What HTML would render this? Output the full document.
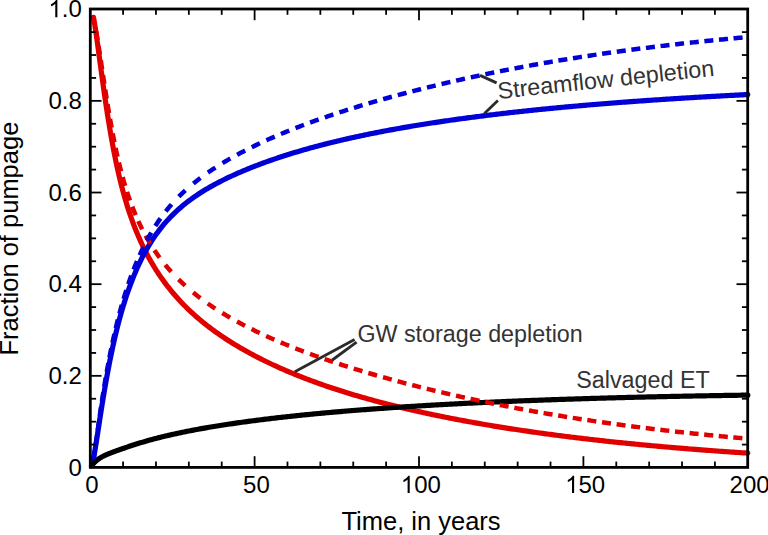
<!DOCTYPE html>
<html><head><meta charset="utf-8"><style>html,body{margin:0;padding:0;background:#fff;overflow:hidden}svg{display:block}</style></head>
<body><svg width="768" height="535" viewBox="0 0 768 535">
<rect width="768" height="535" fill="#fff"/>
<g fill="none" stroke-linecap="round" stroke-linejoin="round" stroke-width="5.2">
<path d="M93.49,17.32 L93.69,18.37 L93.89,19.47 L94.08,20.60 L94.28,21.76 L94.48,22.95 L94.68,24.18 L94.88,25.43 L95.08,26.70 L95.28,27.99 L95.47,29.31 L95.67,30.64 L95.87,32.00 L96.07,33.36 L96.27,34.75 L96.47,36.14 L96.67,37.55 L96.86,38.97 L97.06,40.39 L97.26,41.83 L97.46,43.27 L97.66,44.72 L97.86,46.18 L98.06,47.64 L98.25,49.10 L98.45,50.57 L98.65,52.04 L98.85,53.51 L99.05,54.99 L99.25,56.47 L99.45,57.94 L99.64,59.42 L99.84,60.89 L100.04,62.37 L100.24,63.84 L100.44,65.31 L100.64,66.78 L100.84,68.25 L101.03,69.71 L101.23,71.17 L101.43,72.63 L101.63,74.08 L101.83,75.53 L102.03,76.98 L102.23,78.42 L102.43,79.85 L102.62,81.28 L102.82,82.71 L103.02,84.13 L103.22,85.54 L103.42,86.95 L103.62,88.35 L103.82,89.75 L104.01,91.14 L104.21,92.53 L104.41,93.90 L104.61,95.28 L104.81,96.64 L105.01,98.00 L105.21,99.35 L105.40,100.70 L105.60,102.03 L105.80,103.36 L106.00,104.69 L106.20,106.00 L106.40,107.31 L106.60,108.61 L106.79,109.91 L106.99,111.20 L107.19,112.48 L107.39,113.75 L107.59,115.01 L107.79,116.27 L107.99,117.52 L108.18,118.77 L108.38,120.00 L108.58,121.23 L108.78,122.45 L108.98,123.66 L109.18,124.87 L109.38,126.07 L109.57,127.26 L109.77,128.44 L109.97,129.61 L110.17,130.78 L110.37,131.94 L110.57,133.09 L110.77,134.24 L110.97,135.38 L111.16,136.51 L111.36,137.63 L111.56,138.74 L111.76,139.85 L111.96,140.95 L112.16,142.05 L112.36,143.13 L112.55,144.21 L112.75,145.28 L112.95,146.34 L113.15,147.40 L113.35,148.45 L113.55,149.49 L113.75,150.53 L113.94,151.55 L114.14,152.58 L114.34,153.59 L114.54,154.60 L114.74,155.59 L114.94,156.59 L115.14,157.57 L115.33,158.55 L115.53,159.52 L115.73,160.49 L115.93,161.44 L116.13,162.39 L116.33,163.34 L116.53,164.27 L116.72,165.20 L116.92,166.13 L117.12,167.04 L117.32,167.96 L117.52,168.86 L117.72,169.76 L117.92,170.65 L118.11,171.53 L118.31,172.41 L118.51,173.28 L118.71,174.14 L118.91,175.00 L119.11,175.85 L119.31,176.70 L119.51,177.54 L119.70,178.37 L119.90,179.20 L120.10,180.02 L120.30,180.83 L120.50,181.64 L120.70,182.44 L120.90,183.24 L121.09,184.03 L121.29,184.81 L121.49,185.59 L121.69,186.37 L121.89,187.13 L122.09,187.89 L122.29,188.65 L122.48,189.40 L122.68,190.15 L122.88,190.89 L123.08,191.62 L124.65,197.24 L126.21,202.56 L127.78,207.61 L129.34,212.42 L130.91,217.00 L132.47,221.37 L134.04,225.55 L135.61,229.55 L137.17,233.38 L138.74,237.06 L140.30,240.60 L141.87,244.00 L143.43,247.27 L145.00,250.43 L146.57,253.47 L148.13,256.42 L149.70,259.26 L151.26,262.01 L152.83,264.68 L154.39,267.26 L155.96,269.77 L157.53,272.20 L159.09,274.57 L160.66,276.86 L162.22,279.10 L163.79,281.27 L165.35,283.39 L166.92,285.46 L168.49,287.47 L170.05,289.43 L171.62,291.35 L173.18,293.22 L174.75,295.05 L176.31,296.83 L177.88,298.58 L179.45,300.29 L181.01,301.96 L182.58,303.60 L184.14,305.20 L185.71,306.77 L187.27,308.31 L188.84,309.82 L190.41,311.30 L191.97,312.76 L193.54,314.18 L195.10,315.58 L196.67,316.96 L198.23,318.31 L199.80,319.63 L201.37,320.94 L202.93,322.22 L204.50,323.48 L206.06,324.72 L207.63,325.95 L209.19,327.15 L210.76,328.33 L212.33,329.50 L213.89,330.65 L215.46,331.78 L217.02,332.89 L218.59,333.99 L220.15,335.07 L221.72,336.14 L223.29,337.19 L224.85,338.23 L226.42,339.26 L227.98,340.27 L229.55,341.27 L231.11,342.25 L232.68,343.23 L234.25,344.19 L235.81,345.14 L237.38,346.08 L238.94,347.00 L240.51,347.92 L242.07,348.82 L243.64,349.72 L245.21,350.60 L246.77,351.48 L248.34,352.34 L249.90,353.20 L251.47,354.04 L253.03,354.88 L254.60,355.71 L256.17,356.53 L257.73,357.34 L259.30,358.14 L260.86,358.93 L262.43,359.72 L263.99,360.49 L265.56,361.26 L267.13,362.02 L268.69,362.77 L270.26,363.52 L271.82,364.26 L273.39,364.99 L274.95,365.71 L276.52,366.43 L278.09,367.14 L279.65,367.84 L281.22,368.53 L282.78,369.22 L284.35,369.90 L285.91,370.58 L287.48,371.25 L289.05,371.91 L290.61,372.57 L292.18,373.22 L293.74,373.87 L295.31,374.50 L296.87,375.14 L298.44,375.77 L300.01,376.39 L301.57,377.00 L303.14,377.61 L304.70,378.22 L306.27,378.82 L307.83,379.41 L309.40,380.00 L310.97,380.59 L312.53,381.17 L314.10,381.74 L315.66,382.31 L317.23,382.88 L318.79,383.44 L320.36,383.99 L321.93,384.54 L323.49,385.09 L325.06,385.63 L326.62,386.17 L328.19,386.70 L329.75,387.23 L331.32,387.75 L332.89,388.27 L334.45,388.79 L336.02,389.30 L337.58,389.81 L339.15,390.31 L340.71,390.81 L342.28,391.31 L343.85,391.80 L345.41,392.29 L346.98,392.77 L348.54,393.25 L350.11,393.73 L351.67,394.20 L353.24,394.67 L354.81,395.14 L356.37,395.60 L357.94,396.06 L359.50,396.52 L361.07,396.97 L362.63,397.42 L364.20,397.86 L365.77,398.30 L367.33,398.74 L368.90,399.18 L370.46,399.61 L372.03,400.04 L373.59,400.47 L375.16,400.89 L376.73,401.31 L378.29,401.73 L379.86,402.15 L381.42,402.56 L382.99,402.97 L384.55,403.37 L386.12,403.77 L387.69,404.17 L389.25,404.57 L390.82,404.97 L392.38,405.36 L393.95,405.75 L395.51,406.14 L397.08,406.52 L398.65,406.90 L400.21,407.28 L401.78,407.66 L403.34,408.03 L404.91,408.40 L406.47,408.77 L408.04,409.14 L409.61,409.50 L411.17,409.86 L412.74,410.22 L414.30,410.58 L415.87,410.93 L417.43,411.29 L419.00,411.64 L420.57,411.98 L422.13,412.33 L423.70,412.67 L425.26,413.01 L426.83,413.35 L428.39,413.69 L429.96,414.02 L431.53,414.36 L433.09,414.69 L434.66,415.01 L436.22,415.34 L437.79,415.66 L439.35,415.99 L440.92,416.31 L442.49,416.62 L444.05,416.94 L445.62,417.25 L447.18,417.56 L448.75,417.87 L450.31,418.18 L451.88,418.49 L453.45,418.79 L455.01,419.09 L456.58,419.39 L458.14,419.69 L459.71,419.99 L461.27,420.28 L462.84,420.58 L464.41,420.87 L465.97,421.16 L467.54,421.45 L469.10,421.73 L470.67,422.01 L472.23,422.30 L473.80,422.58 L475.37,422.86 L476.93,423.13 L478.50,423.41 L480.06,423.68 L481.63,423.95 L483.19,424.22 L484.76,424.49 L486.33,424.76 L487.89,425.03 L489.46,425.29 L491.02,425.55 L492.59,425.81 L494.15,426.07 L495.72,426.33 L497.29,426.59 L498.85,426.84 L500.42,427.09 L501.98,427.34 L503.55,427.59 L505.11,427.84 L506.68,428.09 L508.25,428.33 L509.81,428.58 L511.38,428.82 L512.94,429.06 L514.51,429.30 L516.07,429.54 L517.64,429.78 L519.21,430.01 L520.77,430.25 L522.34,430.48 L523.90,430.71 L525.47,430.94 L527.03,431.17 L528.60,431.40 L530.17,431.62 L531.73,431.85 L533.30,432.07 L534.86,432.29 L536.43,432.51 L537.99,432.73 L539.56,432.95 L541.13,433.17 L542.69,433.38 L544.26,433.59 L545.82,433.81 L547.39,434.02 L548.95,434.23 L550.52,434.44 L552.09,434.65 L553.65,434.85 L555.22,435.06 L556.78,435.26 L558.35,435.47 L559.91,435.67 L561.48,435.87 L563.05,436.07 L564.61,436.27 L566.18,436.47 L567.74,436.66 L569.31,436.86 L570.87,437.05 L572.44,437.24 L574.01,437.44 L575.57,437.63 L577.14,437.82 L578.70,438.00 L580.27,438.19 L581.83,438.38 L583.40,438.56 L584.97,438.75 L586.53,438.93 L588.10,439.11 L589.66,439.29 L591.23,439.47 L592.79,439.65 L594.36,439.83 L595.93,440.01 L597.49,440.18 L599.06,440.36 L600.62,440.53 L602.19,440.70 L603.75,440.88 L605.32,441.05 L606.89,441.22 L608.45,441.39 L610.02,441.55 L611.58,441.72 L613.15,441.89 L614.71,442.05 L616.28,442.22 L617.85,442.38 L619.41,442.54 L620.98,442.70 L622.54,442.86 L624.11,443.02 L625.67,443.18 L627.24,443.34 L628.81,443.50 L630.37,443.65 L631.94,443.81 L633.50,443.96 L635.07,444.12 L636.63,444.27 L638.20,444.42 L639.77,444.57 L641.33,444.72 L642.90,444.87 L644.46,445.02 L646.03,445.16 L647.59,445.31 L649.16,445.46 L650.73,445.60 L652.29,445.75 L653.86,445.89 L655.42,446.03 L656.99,446.17 L658.55,446.31 L660.12,446.45 L661.69,446.59 L663.25,446.73 L664.82,446.87 L666.38,447.01 L667.95,447.14 L669.51,447.28 L671.08,447.41 L672.65,447.54 L674.21,447.68 L675.78,447.81 L677.34,447.94 L678.91,448.07 L680.47,448.20 L682.04,448.33 L683.61,448.46 L685.17,448.59 L686.74,448.71 L688.30,448.84 L689.87,448.97 L691.43,449.09 L693.00,449.21 L694.57,449.34 L696.13,449.46 L697.70,449.58 L699.26,449.70 L700.83,449.82 L702.39,449.94 L703.96,450.06 L705.53,450.18 L707.09,450.30 L708.66,450.42 L710.22,450.53 L711.79,450.65 L713.35,450.76 L714.92,450.88 L716.49,450.99 L718.05,451.11 L719.62,451.22 L721.18,451.33 L722.75,451.44 L724.31,451.55 L725.88,451.66 L727.45,451.77 L729.01,451.88 L730.58,451.99 L732.14,452.09 L733.71,452.20 L735.27,452.31 L736.84,452.41 L738.41,452.52 L739.97,452.62 L741.54,452.73 L743.10,452.83 L744.67,452.93 L746.23,453.03 L747.80,453.14" stroke="#e00000"/>
<path d="M93.29,459.47 L93.49,458.48 L93.69,457.46 L93.89,456.40 L94.09,455.32 L94.29,454.21 L94.49,453.08 L94.69,451.93 L94.89,450.75 L95.09,449.56 L95.29,448.35 L95.49,447.13 L95.69,445.89 L95.89,444.64 L96.09,443.38 L96.29,442.11 L96.49,440.83 L96.69,439.55 L96.89,438.26 L97.09,436.96 L97.29,435.66 L97.49,434.36 L97.69,433.05 L97.89,431.74 L98.09,430.43 L98.29,429.12 L98.49,427.81 L98.69,426.50 L98.89,425.19 L99.09,423.88 L99.29,422.58 L99.49,421.27 L99.69,419.97 L99.89,418.68 L100.09,417.38 L100.29,416.09 L100.49,414.81 L100.69,413.53 L100.89,412.25 L101.09,410.98 L101.29,409.71 L101.49,408.45 L101.69,407.19 L101.89,405.94 L102.09,404.69 L102.29,403.45 L102.49,402.21 L102.69,400.98 L102.89,399.76 L103.09,398.54 L103.29,397.33 L103.49,396.12 L103.69,394.92 L103.89,393.73 L104.09,392.54 L104.29,391.35 L104.49,390.18 L104.69,389.01 L104.89,387.84 L105.09,386.68 L105.29,385.53 L105.49,384.39 L105.69,383.25 L105.89,382.11 L106.09,380.99 L106.29,379.87 L106.49,378.75 L106.69,377.65 L106.89,376.54 L107.09,375.45 L107.29,374.36 L107.49,373.28 L107.69,372.20 L107.89,371.13 L108.09,370.07 L108.29,369.01 L108.49,367.96 L108.69,366.91 L108.89,365.88 L109.09,364.84 L109.28,363.82 L109.48,362.80 L109.68,361.78 L109.88,360.77 L110.08,359.77 L110.28,358.78 L110.48,357.79 L110.68,356.80 L110.88,355.83 L111.08,354.86 L111.28,353.89 L111.48,352.93 L111.68,351.98 L111.88,351.03 L112.08,350.09 L112.28,349.15 L112.48,348.22 L112.68,347.30 L112.88,346.38 L113.08,345.46 L113.28,344.56 L113.48,343.66 L113.68,342.76 L113.88,341.87 L114.08,340.98 L114.28,340.11 L114.48,339.23 L114.68,338.36 L114.88,337.50 L115.08,336.64 L115.28,335.79 L115.48,334.94 L115.68,334.10 L115.88,333.27 L116.08,332.44 L116.28,331.61 L116.48,330.79 L116.68,329.98 L116.88,329.17 L117.08,328.36 L117.28,327.56 L117.48,326.77 L117.68,325.98 L117.88,325.19 L118.08,324.41 L118.28,323.64 L118.48,322.87 L118.68,322.11 L118.88,321.35 L119.08,320.59 L119.28,319.84 L119.48,319.10 L119.68,318.35 L119.88,317.62 L120.08,316.89 L120.28,316.16 L120.48,315.44 L120.68,314.72 L120.88,314.01 L121.08,313.30 L121.28,312.60 L121.48,311.90 L121.68,311.20 L121.88,310.51 L122.08,309.82 L122.28,309.14 L122.48,308.46 L122.68,307.79 L122.88,307.12 L123.08,306.46 L124.65,301.38 L126.21,296.54 L127.78,291.92 L129.34,287.51 L130.91,283.28 L132.47,279.24 L134.04,275.36 L135.61,271.64 L137.17,268.08 L138.74,264.66 L140.30,261.37 L141.87,258.21 L143.43,255.18 L145.00,252.25 L146.57,249.44 L148.13,246.73 L149.70,244.13 L151.26,241.61 L152.83,239.19 L154.39,236.85 L155.96,234.60 L157.53,232.43 L159.09,230.33 L160.66,228.30 L162.22,226.35 L163.79,224.46 L165.35,222.63 L166.92,220.86 L168.49,219.15 L170.05,217.49 L171.62,215.88 L173.18,214.32 L174.75,212.81 L176.31,211.34 L177.88,209.90 L179.45,208.51 L181.01,207.16 L182.58,205.84 L184.14,204.55 L185.71,203.30 L187.27,202.07 L188.84,200.88 L190.41,199.71 L191.97,198.57 L193.54,197.46 L195.10,196.37 L196.67,195.30 L198.23,194.26 L199.80,193.24 L201.37,192.24 L202.93,191.26 L204.50,190.29 L206.06,189.35 L207.63,188.42 L209.19,187.51 L210.76,186.62 L212.33,185.74 L213.89,184.88 L215.46,184.03 L217.02,183.20 L218.59,182.37 L220.15,181.57 L221.72,180.77 L223.29,179.99 L224.85,179.21 L226.42,178.45 L227.98,177.70 L229.55,176.96 L231.11,176.23 L232.68,175.51 L234.25,174.80 L235.81,174.10 L237.38,173.40 L238.94,172.72 L240.51,172.04 L242.07,171.37 L243.64,170.71 L245.21,170.06 L246.77,169.41 L248.34,168.77 L249.90,168.14 L251.47,167.51 L253.03,166.89 L254.60,166.28 L256.17,165.67 L257.73,165.07 L259.30,164.48 L260.86,163.89 L262.43,163.31 L263.99,162.74 L265.56,162.17 L267.13,161.61 L268.69,161.05 L270.26,160.50 L271.82,159.95 L273.39,159.41 L274.95,158.87 L276.52,158.34 L278.09,157.82 L279.65,157.30 L281.22,156.78 L282.78,156.27 L284.35,155.77 L285.91,155.27 L287.48,154.77 L289.05,154.28 L290.61,153.80 L292.18,153.31 L293.74,152.84 L295.31,152.36 L296.87,151.89 L298.44,151.43 L300.01,150.97 L301.57,150.51 L303.14,150.06 L304.70,149.61 L306.27,149.17 L307.83,148.73 L309.40,148.29 L310.97,147.86 L312.53,147.43 L314.10,147.01 L315.66,146.59 L317.23,146.17 L318.79,145.75 L320.36,145.34 L321.93,144.94 L323.49,144.53 L325.06,144.13 L326.62,143.74 L328.19,143.34 L329.75,142.95 L331.32,142.56 L332.89,142.18 L334.45,141.80 L336.02,141.42 L337.58,141.05 L339.15,140.68 L340.71,140.31 L342.28,139.94 L343.85,139.58 L345.41,139.22 L346.98,138.86 L348.54,138.51 L350.11,138.16 L351.67,137.81 L353.24,137.46 L354.81,137.12 L356.37,136.78 L357.94,136.44 L359.50,136.10 L361.07,135.77 L362.63,135.44 L364.20,135.11 L365.77,134.79 L367.33,134.46 L368.90,134.14 L370.46,133.82 L372.03,133.51 L373.59,133.20 L375.16,132.88 L376.73,132.58 L378.29,132.27 L379.86,131.96 L381.42,131.66 L382.99,131.36 L384.55,131.06 L386.12,130.77 L387.69,130.47 L389.25,130.18 L390.82,129.89 L392.38,129.61 L393.95,129.32 L395.51,129.04 L397.08,128.76 L398.65,128.48 L400.21,128.20 L401.78,127.92 L403.34,127.65 L404.91,127.38 L406.47,127.11 L408.04,126.84 L409.61,126.58 L411.17,126.31 L412.74,126.05 L414.30,125.79 L415.87,125.53 L417.43,125.27 L419.00,125.02 L420.57,124.76 L422.13,124.51 L423.70,124.26 L425.26,124.01 L426.83,123.77 L428.39,123.52 L429.96,123.28 L431.53,123.04 L433.09,122.80 L434.66,122.56 L436.22,122.32 L437.79,122.08 L439.35,121.85 L440.92,121.62 L442.49,121.39 L444.05,121.16 L445.62,120.93 L447.18,120.70 L448.75,120.48 L450.31,120.25 L451.88,120.03 L453.45,119.81 L455.01,119.59 L456.58,119.37 L458.14,119.15 L459.71,118.94 L461.27,118.72 L462.84,118.51 L464.41,118.30 L465.97,118.09 L467.54,117.88 L469.10,117.67 L470.67,117.47 L472.23,117.26 L473.80,117.06 L475.37,116.86 L476.93,116.66 L478.50,116.46 L480.06,116.26 L481.63,116.06 L483.19,115.86 L484.76,115.67 L486.33,115.47 L487.89,115.28 L489.46,115.09 L491.02,114.90 L492.59,114.71 L494.15,114.52 L495.72,114.34 L497.29,114.15 L498.85,113.97 L500.42,113.78 L501.98,113.60 L503.55,113.42 L505.11,113.24 L506.68,113.06 L508.25,112.88 L509.81,112.70 L511.38,112.53 L512.94,112.35 L514.51,112.18 L516.07,112.01 L517.64,111.83 L519.21,111.66 L520.77,111.49 L522.34,111.32 L523.90,111.16 L525.47,110.99 L527.03,110.82 L528.60,110.66 L530.17,110.49 L531.73,110.33 L533.30,110.17 L534.86,110.01 L536.43,109.85 L537.99,109.69 L539.56,109.53 L541.13,109.37 L542.69,109.21 L544.26,109.06 L545.82,108.90 L547.39,108.75 L548.95,108.59 L550.52,108.44 L552.09,108.29 L553.65,108.14 L555.22,107.99 L556.78,107.84 L558.35,107.69 L559.91,107.55 L561.48,107.40 L563.05,107.25 L564.61,107.11 L566.18,106.96 L567.74,106.82 L569.31,106.68 L570.87,106.54 L572.44,106.40 L574.01,106.26 L575.57,106.12 L577.14,105.98 L578.70,105.84 L580.27,105.70 L581.83,105.57 L583.40,105.43 L584.97,105.30 L586.53,105.16 L588.10,105.03 L589.66,104.90 L591.23,104.77 L592.79,104.63 L594.36,104.50 L595.93,104.37 L597.49,104.24 L599.06,104.12 L600.62,103.99 L602.19,103.86 L603.75,103.74 L605.32,103.61 L606.89,103.49 L608.45,103.36 L610.02,103.24 L611.58,103.11 L613.15,102.99 L614.71,102.87 L616.28,102.75 L617.85,102.63 L619.41,102.51 L620.98,102.39 L622.54,102.27 L624.11,102.15 L625.67,102.04 L627.24,101.92 L628.81,101.81 L630.37,101.69 L631.94,101.58 L633.50,101.46 L635.07,101.35 L636.63,101.24 L638.20,101.12 L639.77,101.01 L641.33,100.90 L642.90,100.79 L644.46,100.68 L646.03,100.57 L647.59,100.46 L649.16,100.35 L650.73,100.25 L652.29,100.14 L653.86,100.03 L655.42,99.93 L656.99,99.82 L658.55,99.72 L660.12,99.61 L661.69,99.51 L663.25,99.41 L664.82,99.30 L666.38,99.20 L667.95,99.10 L669.51,99.00 L671.08,98.90 L672.65,98.80 L674.21,98.70 L675.78,98.60 L677.34,98.50 L678.91,98.40 L680.47,98.31 L682.04,98.21 L683.61,98.11 L685.17,98.02 L686.74,97.92 L688.30,97.83 L689.87,97.73 L691.43,97.64 L693.00,97.54 L694.57,97.45 L696.13,97.36 L697.70,97.27 L699.26,97.18 L700.83,97.08 L702.39,96.99 L703.96,96.90 L705.53,96.81 L707.09,96.72 L708.66,96.64 L710.22,96.55 L711.79,96.46 L713.35,96.37 L714.92,96.29 L716.49,96.20 L718.05,96.11 L719.62,96.03 L721.18,95.94 L722.75,95.86 L724.31,95.77 L725.88,95.69 L727.45,95.61 L729.01,95.52 L730.58,95.44 L732.14,95.36 L733.71,95.28 L735.27,95.19 L736.84,95.11 L738.41,95.03 L739.97,94.95 L741.54,94.87 L743.10,94.79 L744.67,94.72 L746.23,94.64 L747.80,94.56" stroke="#0000d7"/>
<path d="M91.52,465.76 L91.73,465.49 L91.94,465.23 L92.15,464.97 L92.36,464.72 L92.57,464.48 L92.79,464.23 L93.00,463.99 L93.21,463.76 L93.42,463.53 L93.63,463.30 L93.85,463.08 L94.06,462.86 L94.27,462.65 L94.48,462.44 L94.69,462.23 L94.90,462.02 L95.12,461.82 L95.33,461.63 L95.54,461.43 L95.75,461.24 L95.96,461.05 L96.18,460.87 L96.39,460.69 L96.60,460.51 L96.81,460.34 L97.02,460.17 L97.23,460.00 L97.45,459.83 L97.66,459.67 L97.87,459.51 L98.08,459.35 L98.29,459.19 L98.51,459.04 L98.72,458.89 L98.93,458.74 L99.14,458.60 L99.35,458.45 L99.57,458.31 L99.78,458.18 L99.99,458.04 L100.20,457.91 L100.41,457.78 L100.62,457.65 L100.84,457.52 L101.05,457.40 L101.26,457.27 L101.47,457.15 L101.68,457.03 L101.90,456.91 L102.11,456.80 L102.32,456.68 L102.53,456.57 L102.74,456.46 L102.95,456.35 L103.17,456.24 L103.38,456.13 L103.59,456.02 L103.80,455.92 L104.01,455.81 L104.23,455.71 L104.44,455.61 L104.65,455.51 L104.86,455.41 L105.07,455.31 L105.29,455.21 L105.50,455.12 L105.71,455.02 L105.92,454.92 L106.13,454.83 L106.34,454.74 L106.56,454.64 L106.77,454.55 L106.98,454.46 L107.19,454.37 L107.40,454.28 L107.62,454.19 L107.83,454.10 L108.04,454.01 L108.25,453.92 L108.46,453.83 L108.67,453.75 L108.89,453.66 L109.10,453.58 L109.31,453.49 L109.52,453.41 L109.73,453.32 L109.95,453.24 L110.16,453.15 L110.37,453.07 L110.58,452.99 L110.79,452.90 L111.00,452.82 L111.22,452.74 L111.43,452.66 L111.64,452.58 L111.85,452.50 L112.06,452.42 L112.28,452.34 L112.49,452.26 L112.70,452.18 L112.91,452.10 L113.12,452.02 L113.34,451.94 L113.55,451.86 L113.76,451.78 L113.97,451.70 L114.18,451.62 L114.39,451.55 L114.61,451.47 L114.82,451.39 L115.03,451.31 L115.24,451.24 L115.45,451.16 L115.67,451.08 L115.88,451.01 L116.09,450.93 L116.30,450.85 L116.51,450.78 L116.72,450.70 L116.94,450.63 L117.15,450.55 L117.36,450.47 L117.57,450.40 L117.78,450.32 L118.00,450.25 L118.21,450.17 L118.42,450.10 L118.63,450.02 L118.84,449.95 L119.05,449.87 L119.27,449.80 L119.48,449.72 L119.69,449.65 L119.90,449.57 L120.11,449.50 L120.33,449.42 L120.54,449.35 L120.75,449.27 L120.96,449.20 L121.17,449.12 L121.39,449.05 L121.60,448.98 L121.81,448.90 L122.02,448.83 L122.23,448.75 L122.44,448.68 L122.66,448.61 L122.87,448.53 L123.08,448.46 L124.65,447.92 L126.21,447.38 L127.78,446.85 L129.34,446.33 L130.91,445.81 L132.47,445.30 L134.04,444.79 L135.61,444.29 L137.17,443.80 L138.74,443.32 L140.30,442.84 L141.87,442.37 L143.43,441.91 L145.00,441.45 L146.57,441.00 L148.13,440.56 L149.70,440.12 L151.26,439.69 L152.83,439.27 L154.39,438.85 L155.96,438.44 L157.53,438.03 L159.09,437.63 L160.66,437.24 L162.22,436.85 L163.79,436.47 L165.35,436.09 L166.92,435.72 L168.49,435.36 L170.05,434.99 L171.62,434.64 L173.18,434.29 L174.75,433.94 L176.31,433.60 L177.88,433.26 L179.45,432.92 L181.01,432.59 L182.58,432.27 L184.14,431.95 L185.71,431.63 L187.27,431.32 L188.84,431.01 L190.41,430.70 L191.97,430.40 L193.54,430.10 L195.10,429.80 L196.67,429.51 L198.23,429.22 L199.80,428.93 L201.37,428.65 L202.93,428.37 L204.50,428.10 L206.06,427.82 L207.63,427.55 L209.19,427.28 L210.76,427.02 L212.33,426.76 L213.89,426.50 L215.46,426.24 L217.02,425.99 L218.59,425.73 L220.15,425.49 L221.72,425.24 L223.29,424.99 L224.85,424.75 L226.42,424.51 L227.98,424.28 L229.55,424.04 L231.11,423.81 L232.68,423.58 L234.25,423.35 L235.81,423.12 L237.38,422.90 L238.94,422.68 L240.51,422.45 L242.07,422.24 L243.64,422.02 L245.21,421.81 L246.77,421.59 L248.34,421.38 L249.90,421.17 L251.47,420.97 L253.03,420.76 L254.60,420.56 L256.17,420.35 L257.73,420.15 L259.30,419.96 L260.86,419.76 L262.43,419.56 L263.99,419.37 L265.56,419.18 L267.13,418.99 L268.69,418.80 L270.26,418.61 L271.82,418.43 L273.39,418.24 L274.95,418.06 L276.52,417.88 L278.09,417.70 L279.65,417.52 L281.22,417.34 L282.78,417.17 L284.35,416.99 L285.91,416.82 L287.48,416.65 L289.05,416.48 L290.61,416.31 L292.18,416.14 L293.74,415.98 L295.31,415.81 L296.87,415.65 L298.44,415.49 L300.01,415.33 L301.57,415.17 L303.14,415.01 L304.70,414.85 L306.27,414.69 L307.83,414.54 L309.40,414.39 L310.97,414.23 L312.53,414.08 L314.10,413.93 L315.66,413.78 L317.23,413.63 L318.79,413.49 L320.36,413.34 L321.93,413.20 L323.49,413.05 L325.06,412.91 L326.62,412.77 L328.19,412.63 L329.75,412.49 L331.32,412.35 L332.89,412.21 L334.45,412.08 L336.02,411.94 L337.58,411.81 L339.15,411.67 L340.71,411.54 L342.28,411.41 L343.85,411.28 L345.41,411.15 L346.98,411.02 L348.54,410.89 L350.11,410.76 L351.67,410.64 L353.24,410.51 L354.81,410.39 L356.37,410.26 L357.94,410.14 L359.50,410.02 L361.07,409.90 L362.63,409.78 L364.20,409.66 L365.77,409.54 L367.33,409.42 L368.90,409.30 L370.46,409.19 L372.03,409.07 L373.59,408.96 L375.16,408.84 L376.73,408.73 L378.29,408.62 L379.86,408.51 L381.42,408.40 L382.99,408.29 L384.55,408.18 L386.12,408.07 L387.69,407.96 L389.25,407.85 L390.82,407.74 L392.38,407.64 L393.95,407.53 L395.51,407.43 L397.08,407.32 L398.65,407.22 L400.21,407.12 L401.78,407.02 L403.34,406.92 L404.91,406.81 L406.47,406.72 L408.04,406.62 L409.61,406.52 L411.17,406.42 L412.74,406.32 L414.30,406.22 L415.87,406.13 L417.43,406.03 L419.00,405.94 L420.57,405.84 L422.13,405.75 L423.70,405.66 L425.26,405.56 L426.83,405.47 L428.39,405.38 L429.96,405.29 L431.53,405.20 L433.09,405.11 L434.66,405.02 L436.22,404.93 L437.79,404.84 L439.35,404.76 L440.92,404.67 L442.49,404.58 L444.05,404.50 L445.62,404.41 L447.18,404.33 L448.75,404.24 L450.31,404.16 L451.88,404.08 L453.45,403.99 L455.01,403.91 L456.58,403.83 L458.14,403.75 L459.71,403.67 L461.27,403.59 L462.84,403.51 L464.41,403.43 L465.97,403.35 L467.54,403.27 L469.10,403.19 L470.67,403.12 L472.23,403.04 L473.80,402.96 L475.37,402.89 L476.93,402.81 L478.50,402.74 L480.06,402.67 L481.63,402.59 L483.19,402.52 L484.76,402.45 L486.33,402.37 L487.89,402.30 L489.46,402.23 L491.02,402.16 L492.59,402.09 L494.15,402.02 L495.72,401.95 L497.29,401.88 L498.85,401.81 L500.42,401.74 L501.98,401.68 L503.55,401.61 L505.11,401.54 L506.68,401.47 L508.25,401.41 L509.81,401.34 L511.38,401.28 L512.94,401.21 L514.51,401.15 L516.07,401.08 L517.64,401.02 L519.21,400.96 L520.77,400.89 L522.34,400.83 L523.90,400.77 L525.47,400.71 L527.03,400.65 L528.60,400.59 L530.17,400.53 L531.73,400.47 L533.30,400.41 L534.86,400.35 L536.43,400.29 L537.99,400.23 L539.56,400.17 L541.13,400.11 L542.69,400.06 L544.26,400.00 L545.82,399.94 L547.39,399.89 L548.95,399.83 L550.52,399.78 L552.09,399.72 L553.65,399.67 L555.22,399.61 L556.78,399.56 L558.35,399.50 L559.91,399.45 L561.48,399.40 L563.05,399.35 L564.61,399.29 L566.18,399.24 L567.74,399.19 L569.31,399.14 L570.87,399.09 L572.44,399.04 L574.01,398.99 L575.57,398.94 L577.14,398.89 L578.70,398.84 L580.27,398.79 L581.83,398.74 L583.40,398.69 L584.97,398.64 L586.53,398.60 L588.10,398.55 L589.66,398.50 L591.23,398.45 L592.79,398.41 L594.36,398.36 L595.93,398.32 L597.49,398.27 L599.06,398.23 L600.62,398.18 L602.19,398.14 L603.75,398.09 L605.32,398.05 L606.89,398.00 L608.45,397.96 L610.02,397.92 L611.58,397.88 L613.15,397.83 L614.71,397.79 L616.28,397.75 L617.85,397.71 L619.41,397.67 L620.98,397.62 L622.54,397.58 L624.11,397.54 L625.67,397.50 L627.24,397.46 L628.81,397.42 L630.37,397.38 L631.94,397.35 L633.50,397.31 L635.07,397.27 L636.63,397.23 L638.20,397.19 L639.77,397.15 L641.33,397.12 L642.90,397.08 L644.46,397.04 L646.03,397.01 L647.59,396.97 L649.16,396.93 L650.73,396.90 L652.29,396.86 L653.86,396.83 L655.42,396.79 L656.99,396.76 L658.55,396.72 L660.12,396.69 L661.69,396.65 L663.25,396.62 L664.82,396.58 L666.38,396.55 L667.95,396.52 L669.51,396.48 L671.08,396.45 L672.65,396.42 L674.21,396.39 L675.78,396.36 L677.34,396.32 L678.91,396.29 L680.47,396.26 L682.04,396.23 L683.61,396.20 L685.17,396.17 L686.74,396.14 L688.30,396.11 L689.87,396.08 L691.43,396.05 L693.00,396.02 L694.57,395.99 L696.13,395.96 L697.70,395.93 L699.26,395.90 L700.83,395.87 L702.39,395.85 L703.96,395.82 L705.53,395.79 L707.09,395.76 L708.66,395.74 L710.22,395.71 L711.79,395.68 L713.35,395.66 L714.92,395.63 L716.49,395.60 L718.05,395.58 L719.62,395.55 L721.18,395.53 L722.75,395.50 L724.31,395.47 L725.88,395.45 L727.45,395.43 L729.01,395.40 L730.58,395.38 L732.14,395.35 L733.71,395.33 L735.27,395.30 L736.84,395.28 L738.41,395.26 L739.97,395.23 L741.54,395.21 L743.10,395.19 L744.67,395.17 L746.23,395.14 L747.80,395.12" stroke="#000"/>
<path d="M96.15,31.19 L96.45,32.90 L96.74,34.63 L97.05,36.46 L97.35,38.24 L97.65,40.11M98.56,45.79 L98.84,47.55 L99.11,49.32 L99.39,51.10 L99.66,52.90 L99.94,54.70M100.81,60.43 L101.08,62.20 L101.34,63.97 L101.61,65.74 L101.88,67.52 L102.15,69.36M103.00,75.00 L103.27,76.76 L103.53,78.52 L103.81,80.34 L104.08,82.09 L104.35,83.90M105.23,89.59 L105.51,91.36 L105.79,93.19 L106.07,94.94 L106.35,96.75 L106.64,98.54M107.56,104.21 L107.85,106.01 L108.15,107.80 L108.45,109.58 L108.74,111.34 L109.05,113.14M110.03,118.80 L110.34,120.59 L110.66,122.37 L110.98,124.18 L111.30,125.92 L111.62,127.70M112.69,133.39 L113.04,135.19 L113.38,136.97 L113.73,138.73 L114.07,140.47 L114.43,142.24M115.62,148.01 L116.01,149.82 L116.39,151.61 L116.77,153.37 L117.16,155.10 L117.54,156.81M118.89,162.58 L119.32,164.38 L119.75,166.15 L120.19,167.89 L120.62,169.61 L121.07,171.33M122.64,177.17 L122.76,177.63 L122.89,178.10 L123.02,178.55 L123.81,181.32 L125.16,185.89M127.04,191.87 L127.56,193.46 L128.18,195.34 L128.70,196.87 L129.33,198.67 L129.95,200.44M132.24,206.64 L132.87,208.25 L133.60,210.10 L134.22,211.65 L134.95,213.42 L135.68,215.16M138.28,221.07 L139.01,222.65 L139.85,224.42 L140.58,225.94 L141.41,227.64 L142.24,229.30M145.57,235.62 L146.41,237.13 L147.34,238.78 L148.28,240.40 L149.22,241.99 L150.16,243.54M154.43,250.23 L155.47,251.77 L156.51,253.28 L157.55,254.76 L158.59,256.21 L159.63,257.63M165.26,264.84 L166.40,266.22 L167.55,267.58 L168.80,269.03 L169.94,270.33 L171.19,271.72M178.59,279.44 L179.83,280.66 L181.19,281.96 L182.44,283.14 L183.79,284.40 L185.15,285.63M193.16,292.51 L194.52,293.60 L195.98,294.77 L197.43,295.91 L198.89,297.03 L200.35,298.14M207.74,303.50 L209.20,304.51 L210.66,305.50 L212.22,306.55 L213.68,307.52 L215.24,308.54M222.32,313.01 L223.88,313.96 L225.45,314.89 L227.01,315.82 L228.57,316.73 L230.13,317.64M237.01,321.49 L238.57,322.34 L240.13,323.18 L241.80,324.07 L243.36,324.89 L245.02,325.75M251.59,329.08 L253.15,329.85 L254.81,330.67 L256.38,331.43 L258.04,332.23 L259.71,333.02M266.16,336.02 L267.73,336.72 L269.39,337.47 L271.06,338.22 L272.73,338.95 L274.39,339.68M280.74,342.40 L282.41,343.10 L284.08,343.79 L285.74,344.48 L287.41,345.16 L289.07,345.84M295.32,348.33 L296.99,348.98 L298.66,349.62 L300.32,350.26 L301.99,350.90 L303.76,351.57M310.01,353.89 L311.67,354.50 L313.34,355.11 L315.11,355.75 L316.78,356.34 L318.55,356.97M324.59,359.08 L326.25,359.66 L327.92,360.22 L329.69,360.83 L331.35,361.39 L333.13,361.98M339.17,363.97 L340.83,364.51 L342.60,365.09 L344.27,365.62 L346.04,366.18 L347.81,366.75M353.74,368.60 L355.41,369.11 L357.18,369.66 L358.85,370.17 L360.62,370.70 L362.39,371.23M368.32,373.00 L369.99,373.49 L371.76,374.00 L373.53,374.52 L375.30,375.03 L377.07,375.54M383.01,377.22 L384.67,377.68 L386.44,378.18 L388.21,378.67 L389.98,379.16 L391.75,379.64M397.59,381.22 L399.25,381.67 L401.02,382.14 L402.79,382.61 L404.56,383.08 L406.33,383.54M412.17,385.06 L413.83,385.49 L415.60,385.94 L417.37,386.39 L419.14,386.84 L420.91,387.28M426.74,388.74 L428.41,389.15 L430.18,389.58 L431.95,390.01 L433.72,390.44 L435.49,390.87M441.32,392.26 L443.09,392.68 L444.86,393.10 L446.63,393.51 L448.41,393.92 L450.18,394.33M456.01,395.66 L457.78,396.06 L459.55,396.46 L461.32,396.86 L463.09,397.25 L464.86,397.64M470.59,398.89 L472.36,399.28 L474.13,399.66 L475.90,400.03 L477.67,400.41 L479.44,400.78M485.17,401.98 L486.94,402.35 L488.71,402.71 L490.48,403.07 L492.25,403.43 L494.02,403.79M499.74,404.94 L501.52,405.29 L503.29,405.63 L505.06,405.98 L506.83,406.32 L508.60,406.66M514.32,407.76 L516.09,408.09 L517.86,408.42 L519.64,408.76 L521.41,409.08 L523.18,409.41M529.01,410.47 L530.78,410.79 L532.55,411.11 L534.32,411.43 L536.09,411.74 L537.96,412.07M543.59,413.05 L545.36,413.35 L547.13,413.66 L548.90,413.96 L550.67,414.26 L552.54,414.57M558.17,415.51 L559.94,415.80 L561.71,416.09 L563.48,416.37 L565.25,416.66 L567.12,416.96M572.75,417.85 L574.52,418.13 L576.29,418.40 L578.06,418.68 L579.83,418.95 L581.70,419.24M587.32,420.09 L589.09,420.35 L590.87,420.62 L592.64,420.88 L594.41,421.14 L596.28,421.41M602.01,422.24 L603.78,422.49 L605.55,422.74 L607.32,422.99 L609.09,423.24 L610.96,423.50M616.59,424.27 L618.36,424.51 L620.13,424.75 L621.90,424.99 L623.67,425.22 L625.54,425.47M631.17,426.21 L632.94,426.44 L634.71,426.66 L636.48,426.89 L638.25,427.12 L640.12,427.35M645.75,428.05 L647.52,428.27 L649.29,428.49 L651.06,428.70 L652.83,428.92 L654.70,429.14M660.32,429.81 L662.09,430.02 L663.87,430.22 L665.64,430.43 L667.41,430.63 L669.28,430.85M675.01,431.49 L676.78,431.69 L678.55,431.89 L680.32,432.08 L682.09,432.28 L683.96,432.48M689.59,433.08 L691.36,433.27 L693.13,433.46 L694.90,433.64 L696.67,433.83 L698.54,434.02M704.17,434.60 L705.94,434.77 L707.71,434.95 L709.58,435.14 L711.35,435.31 L713.23,435.50M718.75,436.03 L720.52,436.20 L722.29,436.37 L724.16,436.55 L725.93,436.71 L727.81,436.89M733.32,437.39 L735.10,437.55 L736.87,437.71 L738.74,437.88 L740.51,438.04 L742.38,438.20" stroke="#e00000" stroke-linecap="butt" stroke-width="4.5"/>
<path d="M93.41,459.58 L93.70,457.95 L93.99,456.24 L94.27,454.46 L94.56,452.62 L94.86,450.66M95.69,444.94 L95.94,443.19 L96.19,441.43 L96.44,439.65 L96.69,437.86 L96.95,435.99M97.72,430.37 L97.97,428.56 L98.22,426.77 L98.47,424.97 L98.71,423.18 L98.96,421.40M99.76,415.77 L100.02,413.97 L100.27,412.18 L100.53,410.40 L100.79,408.64 L101.06,406.83M101.91,401.15 L102.19,399.34 L102.47,397.54 L102.75,395.76 L103.03,394.00 L103.30,392.25M104.23,386.55 L104.53,384.75 L104.82,382.97 L105.12,381.21 L105.42,379.46 L105.73,377.67M106.73,371.97 L107.05,370.20 L107.38,368.40 L107.70,366.62 L108.03,364.85 L108.36,363.10M109.46,357.36 L109.81,355.59 L110.17,353.80 L110.52,352.02 L110.88,350.26 L111.24,348.52M112.45,342.78 L112.84,340.99 L113.23,339.22 L113.62,337.43 L114.01,335.70 L114.41,333.95M115.75,328.20 L116.18,326.42 L116.60,324.66 L117.04,322.89 L117.47,321.17 L117.90,319.44M119.42,313.60 L119.90,311.82 L120.38,310.06 L120.85,308.33 L121.33,306.62 L121.82,304.90M123.60,298.81 L124.12,297.08 L124.64,295.38 L125.16,293.71 L125.68,292.06 L126.31,290.11M128.29,284.14 L128.81,282.63 L129.43,280.83 L130.06,279.07 L130.68,277.33 L131.31,275.62M133.60,269.58 L134.22,267.99 L134.95,266.17 L135.58,264.63 L136.31,262.87 L137.03,261.14M139.64,255.20 L140.37,253.60 L141.10,252.03 L141.93,250.26 L142.66,248.75 L143.49,247.05M146.82,240.55 L147.66,239.01 L148.59,237.30 L149.43,235.81 L150.36,234.17 L151.30,232.56M155.36,225.94 L156.30,224.50 L157.34,222.92 L158.38,221.38 L159.42,219.88 L160.47,218.40M165.78,211.35 L166.92,209.92 L168.07,208.52 L169.21,207.15 L170.36,205.81 L171.61,204.38M178.79,196.71 L180.04,195.46 L181.40,194.14 L182.65,192.94 L184.00,191.67 L185.35,190.42M193.37,183.49 L194.73,182.39 L196.18,181.23 L197.54,180.17 L199.00,179.04 L200.45,177.94M207.95,172.53 L209.41,171.52 L210.87,170.53 L212.43,169.49 L213.89,168.53 L215.45,167.52M222.53,163.10 L224.09,162.16 L225.66,161.23 L227.22,160.32 L228.78,159.41 L230.34,158.52M237.11,154.77 L238.67,153.93 L240.23,153.10 L241.90,152.22 L243.46,151.40 L245.13,150.55M251.79,147.20 L253.36,146.43 L255.02,145.62 L256.58,144.87 L258.25,144.08 L259.92,143.29M266.37,140.32 L268.04,139.57 L269.71,138.82 L271.37,138.09 L273.04,137.36 L274.70,136.63M280.95,133.97 L282.62,133.27 L284.28,132.59 L285.95,131.90 L287.62,131.22 L289.28,130.55M295.53,128.07 L297.20,127.42 L298.86,126.78 L300.53,126.14 L302.20,125.51 L303.97,124.84M310.11,122.56 L311.78,121.95 L313.44,121.34 L315.21,120.71 L316.88,120.11 L318.65,119.48M324.79,117.34 L326.46,116.76 L328.13,116.19 L329.90,115.59 L331.56,115.03 L333.33,114.44M339.37,112.45 L341.04,111.90 L342.81,111.33 L344.48,110.80 L346.25,110.23 L348.02,109.67M353.95,107.81 L355.62,107.30 L357.39,106.75 L359.06,106.24 L360.83,105.71 L362.60,105.17M368.53,103.40 L370.20,102.91 L371.97,102.40 L373.63,101.91 L375.40,101.40 L377.18,100.89M383.11,99.20 L384.78,98.73 L386.55,98.24 L388.32,97.74 L390.09,97.25 L391.86,96.77M397.79,95.15 L399.46,94.70 L401.23,94.23 L403.00,93.76 L404.77,93.29 L406.54,92.82M412.37,91.30 L414.04,90.87 L415.81,90.41 L417.58,89.96 L419.35,89.51 L421.12,89.06M426.95,87.60 L428.62,87.18 L430.39,86.75 L432.16,86.31 L433.93,85.88 L435.70,85.45M441.53,84.05 L443.30,83.63 L445.07,83.21 L446.84,82.79 L448.61,82.38 L450.38,81.97M456.11,80.65 L457.88,80.25 L459.65,79.85 L461.42,79.45 L463.19,79.05 L464.96,78.66M470.79,77.37 L472.56,76.99 L474.34,76.60 L476.11,76.22 L477.88,75.84 L479.65,75.46M485.37,74.26 L487.14,73.89 L488.91,73.52 L490.68,73.15 L492.46,72.79 L494.23,72.43M499.95,71.28 L501.72,70.92 L503.49,70.57 L505.26,70.22 L507.03,69.88 L508.80,69.53M514.53,68.43 L516.30,68.09 L518.07,67.75 L519.84,67.42 L521.61,67.09 L523.38,66.76M529.11,65.70 L530.88,65.38 L532.65,65.06 L534.42,64.74 L536.19,64.42 L538.07,64.09M543.79,63.08 L545.57,62.77 L547.34,62.47 L549.11,62.16 L550.88,61.86 L552.75,61.54M558.37,60.59 L560.14,60.30 L561.91,60.01 L563.69,59.72 L565.46,59.43 L567.33,59.12M572.95,58.22 L574.72,57.94 L576.49,57.66 L578.26,57.38 L580.03,57.11 L581.91,56.82M587.53,55.95 L589.30,55.69 L591.07,55.42 L592.84,55.15 L594.61,54.89 L596.49,54.61M602.11,53.79 L603.88,53.54 L605.65,53.28 L607.42,53.03 L609.19,52.78 L611.07,52.51M616.80,51.71 L618.57,51.47 L620.34,51.23 L622.11,50.99 L623.88,50.75 L625.75,50.49M631.37,49.75 L633.14,49.51 L634.92,49.28 L636.69,49.05 L638.46,48.82 L640.33,48.58M645.95,47.87 L647.72,47.65 L649.49,47.43 L651.26,47.21 L653.04,46.99 L654.91,46.76M660.53,46.09 L662.30,45.87 L664.07,45.66 L665.84,45.46 L667.61,45.25 L669.49,45.03M675.11,44.38 L676.88,44.18 L678.65,43.98 L680.42,43.78 L682.19,43.59 L684.07,43.38M689.80,42.75 L691.57,42.56 L693.34,42.37 L695.11,42.18 L696.88,42.00 L698.75,41.80M704.37,41.21 L706.15,41.03 L707.92,40.85 L709.69,40.67 L711.46,40.49 L713.33,40.30M718.95,39.75 L720.72,39.58 L722.49,39.40 L724.37,39.22 L726.14,39.05 L728.01,38.88M733.53,38.36 L735.30,38.19 L737.07,38.03 L738.95,37.86 L740.72,37.70 L742.59,37.53" stroke="#0000d7" stroke-linecap="butt" stroke-width="4.5"/>
</g>
<g stroke="#000" stroke-width="1.8"><line x1="123.08" y1="467.4" x2="123.08" y2="461.59999999999997"/><line x1="123.08" y1="9.0" x2="123.08" y2="14.8"/><line x1="155.96" y1="467.4" x2="155.96" y2="461.59999999999997"/><line x1="155.96" y1="9.0" x2="155.96" y2="14.8"/><line x1="188.84" y1="467.4" x2="188.84" y2="461.59999999999997"/><line x1="188.84" y1="9.0" x2="188.84" y2="14.8"/><line x1="221.72" y1="467.4" x2="221.72" y2="461.59999999999997"/><line x1="221.72" y1="9.0" x2="221.72" y2="14.8"/><line x1="254.60" y1="467.4" x2="254.60" y2="456.2"/><line x1="254.60" y1="9.0" x2="254.60" y2="20.2"/><line x1="287.48" y1="467.4" x2="287.48" y2="461.59999999999997"/><line x1="287.48" y1="9.0" x2="287.48" y2="14.8"/><line x1="320.36" y1="467.4" x2="320.36" y2="461.59999999999997"/><line x1="320.36" y1="9.0" x2="320.36" y2="14.8"/><line x1="353.24" y1="467.4" x2="353.24" y2="461.59999999999997"/><line x1="353.24" y1="9.0" x2="353.24" y2="14.8"/><line x1="386.12" y1="467.4" x2="386.12" y2="461.59999999999997"/><line x1="386.12" y1="9.0" x2="386.12" y2="14.8"/><line x1="419.00" y1="467.4" x2="419.00" y2="456.2"/><line x1="419.00" y1="9.0" x2="419.00" y2="20.2"/><line x1="451.88" y1="467.4" x2="451.88" y2="461.59999999999997"/><line x1="451.88" y1="9.0" x2="451.88" y2="14.8"/><line x1="484.76" y1="467.4" x2="484.76" y2="461.59999999999997"/><line x1="484.76" y1="9.0" x2="484.76" y2="14.8"/><line x1="517.64" y1="467.4" x2="517.64" y2="461.59999999999997"/><line x1="517.64" y1="9.0" x2="517.64" y2="14.8"/><line x1="550.52" y1="467.4" x2="550.52" y2="461.59999999999997"/><line x1="550.52" y1="9.0" x2="550.52" y2="14.8"/><line x1="583.40" y1="467.4" x2="583.40" y2="456.2"/><line x1="583.40" y1="9.0" x2="583.40" y2="20.2"/><line x1="616.28" y1="467.4" x2="616.28" y2="461.59999999999997"/><line x1="616.28" y1="9.0" x2="616.28" y2="14.8"/><line x1="649.16" y1="467.4" x2="649.16" y2="461.59999999999997"/><line x1="649.16" y1="9.0" x2="649.16" y2="14.8"/><line x1="682.04" y1="467.4" x2="682.04" y2="461.59999999999997"/><line x1="682.04" y1="9.0" x2="682.04" y2="14.8"/><line x1="714.92" y1="467.4" x2="714.92" y2="461.59999999999997"/><line x1="714.92" y1="9.0" x2="714.92" y2="14.8"/><line x1="90.3" y1="444.58" x2="96.1" y2="444.58"/><line x1="747.7" y1="444.58" x2="741.9000000000001" y2="444.58"/><line x1="90.3" y1="421.67" x2="96.1" y2="421.67"/><line x1="747.7" y1="421.67" x2="741.9000000000001" y2="421.67"/><line x1="90.3" y1="398.75" x2="96.1" y2="398.75"/><line x1="747.7" y1="398.75" x2="741.9000000000001" y2="398.75"/><line x1="90.3" y1="375.84" x2="101.5" y2="375.84"/><line x1="747.7" y1="375.84" x2="736.5" y2="375.84"/><line x1="90.3" y1="352.93" x2="96.1" y2="352.93"/><line x1="747.7" y1="352.93" x2="741.9000000000001" y2="352.93"/><line x1="90.3" y1="330.01" x2="96.1" y2="330.01"/><line x1="747.7" y1="330.01" x2="741.9000000000001" y2="330.01"/><line x1="90.3" y1="307.09" x2="96.1" y2="307.09"/><line x1="747.7" y1="307.09" x2="741.9000000000001" y2="307.09"/><line x1="90.3" y1="284.18" x2="101.5" y2="284.18"/><line x1="747.7" y1="284.18" x2="736.5" y2="284.18"/><line x1="90.3" y1="261.26" x2="96.1" y2="261.26"/><line x1="747.7" y1="261.26" x2="741.9000000000001" y2="261.26"/><line x1="90.3" y1="238.35" x2="96.1" y2="238.35"/><line x1="747.7" y1="238.35" x2="741.9000000000001" y2="238.35"/><line x1="90.3" y1="215.43" x2="96.1" y2="215.43"/><line x1="747.7" y1="215.43" x2="741.9000000000001" y2="215.43"/><line x1="90.3" y1="192.52" x2="101.5" y2="192.52"/><line x1="747.7" y1="192.52" x2="736.5" y2="192.52"/><line x1="90.3" y1="169.60" x2="96.1" y2="169.60"/><line x1="747.7" y1="169.60" x2="741.9000000000001" y2="169.60"/><line x1="90.3" y1="146.69" x2="96.1" y2="146.69"/><line x1="747.7" y1="146.69" x2="741.9000000000001" y2="146.69"/><line x1="90.3" y1="123.77" x2="96.1" y2="123.77"/><line x1="747.7" y1="123.77" x2="741.9000000000001" y2="123.77"/><line x1="90.3" y1="100.86" x2="101.5" y2="100.86"/><line x1="747.7" y1="100.86" x2="736.5" y2="100.86"/><line x1="90.3" y1="77.94" x2="96.1" y2="77.94"/><line x1="747.7" y1="77.94" x2="741.9000000000001" y2="77.94"/><line x1="90.3" y1="55.03" x2="96.1" y2="55.03"/><line x1="747.7" y1="55.03" x2="741.9000000000001" y2="55.03"/><line x1="90.3" y1="32.11" x2="96.1" y2="32.11"/><line x1="747.7" y1="32.11" x2="741.9000000000001" y2="32.11"/></g>
<rect x="90.3" y="9.0" width="657.40" height="458.40" fill="none" stroke="#000" stroke-width="2.8"/>
<g font-family="'Liberation Sans', sans-serif" font-size="24" fill="#000"><path transform="translate(48.44 17.20) scale(0.011719 -0.011719)" d="M763 0L583 0L583 1147C540 1106 483 1064 413 1023C342 982 279 951 223 930L223 1104C324 1151 412 1208 487 1274C562 1340 615 1404 646 1466L763 1466Z"/><text x="61.78" y="17.20">.0</text><text x="48.44" y="108.86">0.8</text><text x="48.44" y="200.52">0.6</text><text x="48.44" y="292.18">0.4</text><text x="48.44" y="383.84">0.2</text><text x="68.45" y="475.50">0</text><text x="85.33" y="493.00">0</text><text x="243.05" y="493.00">50</text><path transform="translate(400.78 493.00) scale(0.011719 -0.011719)" d="M763 0L583 0L583 1147C540 1106 483 1064 413 1023C342 982 279 951 223 930L223 1104C324 1151 412 1208 487 1274C562 1340 615 1404 646 1466L763 1466Z"/><text x="414.13" y="493.00">00</text><path transform="translate(565.18 493.00) scale(0.011719 -0.011719)" d="M763 0L583 0L583 1147C540 1106 483 1064 413 1023C342 982 279 951 223 930L223 1104C324 1151 412 1208 487 1274C562 1340 615 1404 646 1466L763 1466Z"/><text x="578.53" y="493.00">50</text><text x="729.58" y="493.00">200</text></g>
<g stroke="#2b2b2b" stroke-width="2.8" stroke-linecap="butt" fill="none">
<line x1="480.0" y1="75.4" x2="496.6" y2="82.9"/>
<line x1="497.9" y1="100.4" x2="484.4" y2="113.4"/>
<line x1="294.8" y1="371.7" x2="354.6" y2="339.6"/><line x1="332.3" y1="360" x2="356.6" y2="342.1"/>
</g>
<g font-family="'Liberation Sans', sans-serif" font-size="23.3" fill="#333">
<text x="498.5" y="98.9" transform="rotate(-6.1 498.5 98.9)">Streamflow depletion</text>
<text x="357.4" y="341.6">GW storage depletion</text>
<text x="576.3" y="388">Salvaged ET</text>
</g>
<g font-family="'Liberation Sans', sans-serif" font-size="25.5" fill="#000">
<text x="421" y="529.6" text-anchor="middle">Time, in years</text>
<text x="17.9" y="238.6" text-anchor="middle" transform="rotate(-90 17.9 238.6)">Fraction of pumpage</text>
</g>
</svg></body></html>
